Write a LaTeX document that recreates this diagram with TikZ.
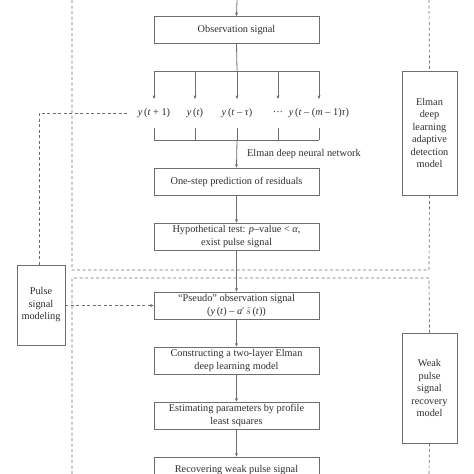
\documentclass[tikz,border=0pt]{standalone}
\usepackage{fontspec}
\setmainfont{Liberation Serif}
\usetikzlibrary{arrows.meta}
\definecolor{linec}{HTML}{6E6E6E}
\definecolor{textc}{HTML}{2E2E2E}
\begin{document}
\begin{tikzpicture}[x=1pt,y=-1pt,
  every node/.style={text=textc, font=\fontsize{10.3}{12.5}\selectfont},
  box/.style={draw=linec, line width=0.8pt, minimum width=165pt, minimum height=27pt, align=center, inner sep=1pt},
  sidebox/.style={draw=linec, line width=0.8pt, minimum width=55pt, align=center, inner sep=1pt},
  lab/.style={inner sep=1pt},
  conn/.style={draw=linec, line width=0.8pt},
  arr/.style={conn, -{Stealth[length=3.5pt,width=3pt]}},
  dashline/.style={draw=linec, line width=0.7pt, dash pattern=on 3pt off 2.5pt},
  dasharr/.style={dashline, -{Stealth[length=3.5pt,width=3pt]}}
]
\useasboundingbox (0,0) rectangle (474,474);
\clip (0,0) rectangle (474,474);

% main boxes
\node[box] (obs) at (236.5,30) {Observation signal};
\node[box] (onestep) at (236.5,181.5) {One-step prediction of residuals};
\node[box] (hyp) at (236.5,236.5) {Hypothetical test: \textit{p}–value < \textit{α},\\exist pulse signal};
\node[box] (pseudo) at (236.5,305.5) {“Pseudo” observation signal\\[1pt](\textit{y}\,(\textit{t}) – \textit{a}′\,$\tilde{s}$\,(\textit{t}))};
\node[box] (constr) at (236.5,360.5) {Constructing a two-layer Elman\\deep learning model};
\node[box] (est) at (236.5,415.5) {Estimating parameters by profile\\least squares};
\node[box] (recov) at (236.5,470.5) {Recovering weak pulse signal};

% side boxes
\node[sidebox, minimum height=124pt] (elman) at (429.5,133) {Elman\\deep\\learning\\adaptive\\detection\\model};
\node[sidebox, minimum height=110pt] (weak) at (429.5,388) {Weak\\pulse\\signal\\recovery\\model};
\node[sidebox, minimum width=48pt, minimum height=80pt] (pulse) at (41,305) {Pulse\\signal\\modeling};

% series labels
\node[lab] (y1) at (154,113) {\textit{y}\,(\textit{t} + 1)};
\node[lab] (y2) at (195,113) {\textit{y}\,(\textit{t})};
\node[lab] (y3) at (237,113) {\textit{y}\,(\textit{t} – \textit{τ})};
\node[lab] (y4) at (278,113) {···};
\node[lab] (y5) at (319,113) {\textit{y}\,(\textit{t} – (\textit{m} – 1)\textit{τ})};
\node[lab, anchor=west] (enn) at (246,154) {Elman deep neural network};

% coordinates
\coordinate (top) at (237,0);
\coordinate (split) at (237,71);
\coordinate (sl) at (154,71);
\coordinate (sr) at (319,71);
\coordinate (join) at (237,140);
\coordinate (jl) at (154,140);
\coordinate (jr) at (319,140);

% flow
\draw[arr] (top) -- (obs.north);
\draw[conn] (obs.south) -- (split);
\draw[conn] (sl) -- (sr);
\foreach \x/\n in {154/1,195/2,237/3,278/4,319/5}{
  \draw[arr] (\x,71) -- (\x,99);
  \draw[conn] (\x,128) -- (\x,140);
}
\draw[conn] (jl) -- (jr);
\draw[arr] (join) -- (onestep.north);
\draw[arr] (onestep.south) -- (hyp.north);
\draw[arr] (hyp.south) -- (pseudo.north);
\draw[arr] (pseudo.south) -- (constr.north);
\draw[arr] (constr.south) -- (est.north);
\draw[arr] (est.south) -- (recov.north);

% dashed regions
\draw[dashline] (429,0) -- (elman.north);
\draw[dashline] (elman.south) -- (429,270) -- (72,270) -- (72,0);
\draw[dashline] (72,474) -- (72,278) -- (429,278) -- (weak.north);
\draw[dashline] (weak.south) -- (429,474);

% pulse connections
\draw[dashline] (127,113) -- (39,113) -- (39,265);
\draw[dasharr] (pulse.east |- pseudo.west) -- (pseudo.west);
\end{tikzpicture}
\end{document}
